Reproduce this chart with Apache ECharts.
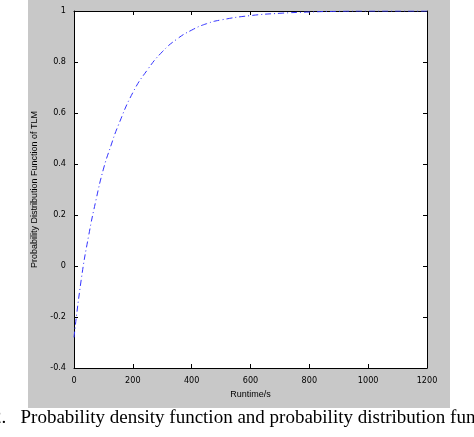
<!DOCTYPE html>
<html><head><meta charset="utf-8">
<script src="https://cdn.jsdelivr.net/npm/echarts@6/dist/echarts.min.js"></script>
<style>body{margin:0;background:#fff}#chart{width:474px;height:437px}</style>
</head><body><div id="chart"></div>
<script>
const xValues = [0, 25, 50, 75, 100, 125, 150, 200, 250, 300, 350, 400, 450, 500, 600, 700, 800, 900, 1000, 1200];
const yValues = [-0.28, -0.05, 0.12, 0.26, 0.38, 0.47, 0.55, 0.68, 0.77, 0.84, 0.89, 0.925, 0.95, 0.965, 0.982, 0.991, 0.996, 0.999, 1, 1];
const xLabel = 'Runtime/s';
const yLabel = 'Probability Distribution Function of TLM';
const caption = '2.   Probability density function and probability distribution function';

const chart = echarts.init(document.getElementById('chart'));
const ax = {onZero: false, lineStyle: {color: '#000'}};
const tick = {inside: true, length: 4, lineStyle: {color: '#000'}};
const lbl = {color: '#000', fontSize: 9, fontFamily: 'DejaVu Sans Condensed'};
chart.setOption({
  graphic: [
    {type: 'rect', shape: {x: 28, y: 0, width: 422, height: 408}, style: {fill: '#c8c8c8'}, z: -10},
    {type: 'text', left: -8, top: 409, style: {text: caption, font: '19px "Liberation Serif"', fill: '#000'}}
  ],
  grid: {left: 74, top: 11, right: 47, bottom: 69, show: true, backgroundColor: '#fff', borderWidth: 0},
  xAxis: [
    {type: 'value', min: 0, max: 1200, interval: 200, axisLine: ax, axisTick: tick, splitLine: {show: false},
     axisLabel: Object.assign({formatter: v => String(v)}, lbl),
     name: xLabel, nameLocation: 'middle', nameGap: 16, nameTextStyle: {color: '#000', fontSize: 9}},
    {type: 'value', position: 'top', min: 0, max: 1200, interval: 200, axisLine: ax, axisTick: tick, axisLabel: {show: false}, splitLine: {show: false}}
  ],
  yAxis: [
    {type: 'value', min: -0.4, max: 1, interval: 0.2, axisLine: ax, axisTick: tick, splitLine: {show: false},
     axisLabel: Object.assign({formatter: v => +v.toFixed(1) + ''}, lbl),
     name: yLabel, nameLocation: 'middle', nameGap: 26, nameTextStyle: {color: '#000', fontSize: 9}},
    {type: 'value', position: 'right', min: -0.4, max: 1, interval: 0.2, axisLine: ax, axisTick: tick, axisLabel: {show: false}, splitLine: {show: false}}
  ],
  series: [{
    type: 'line', data: xValues.map((x, i) => [x, yValues[i]]), smooth: true, showSymbol: false,
    lineStyle: {color: '#3333ff', width: 1, type: [6, 3, 1, 3]}, animation: false
  }]
});
</script></body></html>
